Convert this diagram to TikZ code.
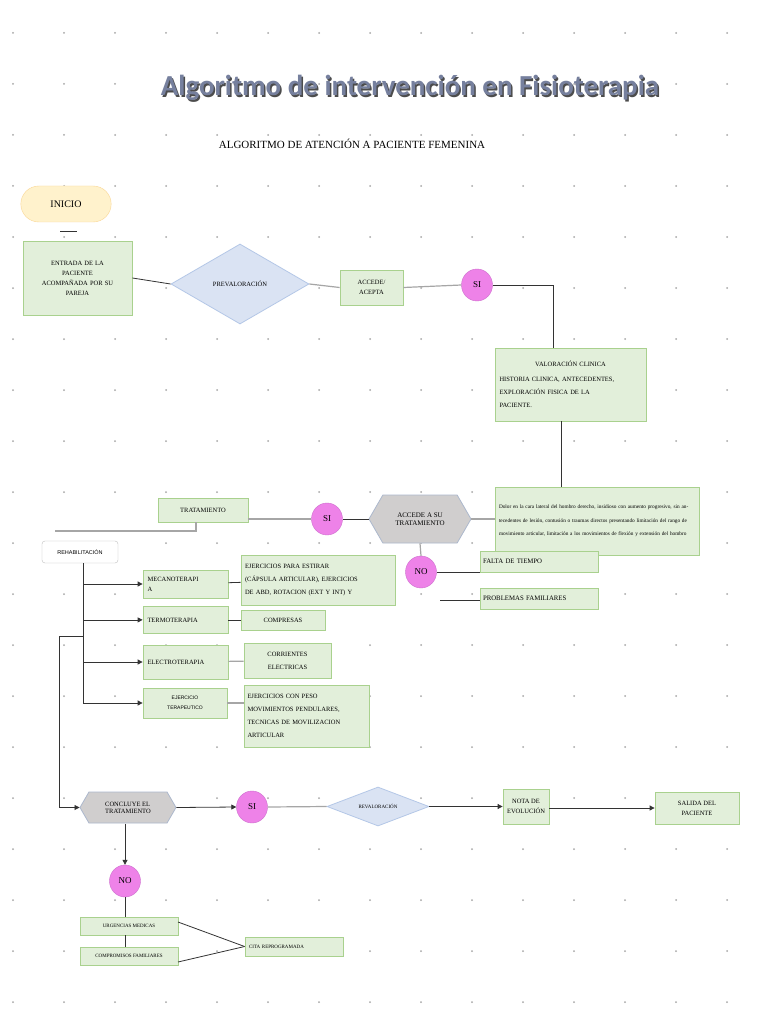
\documentclass[tikz,border=0pt]{standalone}
\usepackage{fontspec}
\setmainfont{Liberation Serif}
\newfontfamily\titlefont{Carlito}
\newfontfamily\sansfont{Liberation Sans}
\usetikzlibrary{arrows.meta, shapes.geometric, shapes.misc, shapes.symbols}
\definecolor{boxfill}{RGB}{226,239,218}
\definecolor{boxline}{RGB}{169,209,142}
\definecolor{diafill}{RGB}{218,227,243}
\definecolor{dialine}{RGB}{180,199,231}
\definecolor{hexfill}{RGB}{208,206,206}
\definecolor{hexline}{RGB}{172,184,205}
\definecolor{sifill}{RGB}{238,130,232}
\definecolor{siline}{RGB}{205,110,205}
\definecolor{inifill}{RGB}{255,242,204}
\definecolor{iniline}{RGB}{250,215,150}
\definecolor{titlec}{RGB}{118,128,158}
\begin{document}
\begin{tikzpicture}[x=1pt, y=-1pt,
  box/.style={rectangle, draw=boxline, fill=boxfill, line width=0.8pt, inner sep=2pt, align=center, font=\fontsize{6.5}{10}\selectfont},
  dia/.style={diamond, draw=dialine, fill=diafill, line width=0.8pt, inner sep=0pt, font=\fontsize{6.5}{8}\selectfont, align=center},
  hex/.style={signal, signal to=east and west, signal pointer angle=120, draw=hexline, fill=hexfill, line width=0.8pt, inner sep=0pt, align=center, font=\fontsize{7}{8}\selectfont},
  circ/.style={ellipse, draw=siline, fill=sifill, inner sep=0pt, minimum width=31pt, minimum height=32pt, font=\fontsize{9}{10}\selectfont},
  ln/.style={draw=black!80, line width=0.8pt},
  gl/.style={draw=black!35, line width=1.2pt},
  arr/.style={ln, -{Triangle[length=5pt,width=5pt]}}
]
\fill[white] (0,0) rectangle (768,1024);
\useasboundingbox (0,0) rectangle (768,1024);
% dot grid
\foreach \i in {0,...,14}
  \foreach \j in {0,...,19}
    \fill[black!35] (13+51*\i,33+51*\j) circle (1pt);

% titles
\node[font=\titlefont\bfseries\fontsize{29}{30}\selectfont, text=black!70] at (411.5,89.5) {Algoritmo de intervención en Fisioterapia};
\node[font=\titlefont\bfseries\fontsize{29}{30}\selectfont, text=titlec] (title) at (410,88) {Algoritmo de intervención en Fisioterapia};
\node[font=\fontsize{11}{12}\selectfont] (sub) at (352,144) {ALGORITMO DE ATENCIÓN A PACIENTE FEMENINA};

% upper part
\node[rounded rectangle, draw=iniline, fill=inifill, minimum width=97pt, minimum height=36pt, font=\fontsize{10}{12}\selectfont] (inicio) at (66,204) {INICIO};
\coordinate (u1) at (60,231); \coordinate (u2) at (77,231);
\draw[ln] (u1) -- (u2);
\node[box, minimum width=109pt, minimum height=74pt, text width=100pt] (entrada) at (77.5,278) {ENTRADA DE LA\\PACIENTE\\ACOMPAÑADA POR SU\\PAREJA};
\node[dia, minimum width=138pt, minimum height=80pt, aspect=1.72] (preval) at (240,284) {PREVALORACIÓN};
\node[box, minimum width=63pt, minimum height=35pt] (accede) at (371.5,287.5) {ACCEDE/\\ACEPTA};
\node[circ] (si1) at (477,285) {SI};
\node[box, minimum width=151pt, minimum height=73pt, text width=142pt, align=left, font=\fontsize{6.5}{13}\selectfont] (valor) at (570.5,384.5) {\centerline{VALORACIÓN CLINICA}\\[2pt]HISTORIA CLINICA, ANTECEDENTES,\\EXPLORACIÓN FISICA DE LA\\PACIENTE.};
\draw[ln] (entrada.east) -- (preval.west);
\draw[gl] (preval.east) -- (accede.west);
\draw[gl] (accede.east) -- (si1.west);
\coordinate (c1) at (553,285);
\draw[ln] (si1.east) -- (c1) -- (c1 |- valor.north);

% dolor / accede a su tratamiento
\node[box, minimum width=204pt, minimum height=68pt, text width=196pt, align=left, font=\fontsize{5.3}{13.5}\selectfont] (dolor) at (597,521) {Dolor en la cara lateral del hombro derecho, insidioso con aumento progresivo, sin antecedentes de lesión, contusión o traumas directos presentando limitación del rango de movimiento articular, limitación a los movimientos de flexión y extensión del hombro};
\coordinate (c2) at (561,421);
\draw[ln] (c2) -- (c2 |- dolor.north);
\node[hex, minimum width=102pt, minimum height=48pt] (hex1) at (420,519) {ACCEDE A SU\\TRATAMIENTO};
\draw[gl] (dolor.west |- hex1) -- (hex1.east);
\node[circ] (si2) at (327,519) {SI};
\draw[ln] (hex1.west) -- (si2.east);
\node[box, minimum width=90pt, minimum height=24pt] (trat) at (203,510) {TRATAMIENTO};
\draw[gl] (si2.west) -- (trat.east |- si2);
\node[rounded corners=3pt, draw=black!25, fill=white, minimum width=76pt, minimum height=22pt, font=\sansfont\fontsize{5.5}{6}\selectfont] (rehab) at (80,552) {REHABILITACIÓN};
\coordinate (c3) at (196,531); \coordinate (c4) at (55,531);
\draw[gl] (trat.south -| c3) -- (c3) -- (c4);
\node[circ] (no1) at (421,572) {NO};
\draw[gl] (hex1.south) -- (no1.north);
\node[box, minimum width=118pt, minimum height=21pt, text width=112pt, align=left, font=\fontsize{6.8}{8}\selectfont] (falta) at (539,561.5) {FALTA DE TIEMPO};
\node[box, minimum width=118pt, minimum height=21pt, text width=112pt, align=left, font=\fontsize{6.8}{8}\selectfont] (probl) at (539,598.5) {PROBLEMAS FAMILIARES};
\coordinate (c5) at (440,600);
\draw[ln] (no1.east) -- (falta.west |- no1.east);
\draw[ln] (c5) -- (probl.west |- c5);

% therapies
\node[box, minimum width=85pt, minimum height=28pt, text width=76pt, align=left] (meca) at (185.5,584) {MECANOTERAPI\\A};
\node[box, minimum width=85pt, minimum height=27pt, text width=76pt, align=left, anchor=north] (termo) at (185.5,606) {TERMOTERAPIA\\[6pt]};
\node[box, minimum width=85pt, minimum height=34pt, text width=76pt, align=left] (elec) at (185.5,662) {ELECTROTERAPIA};
\node[box, minimum width=84pt, minimum height=30pt, font=\sansfont\fontsize{5}{10}\selectfont] (ejer) at (185,703) {EJERCICIO\\TERAPEUTICO};
\node[box, minimum width=154pt, minimum height=50pt, text width=146pt, align=left, font=\fontsize{6.5}{13}\selectfont] (estir) at (318,580) {EJERCICIOS PARA ESTIRAR\\(CÁPSULA ARTICULAR), EJERCICIOS\\DE ABD, ROTACION (EXT Y INT) Y};
\node[box, minimum width=84pt, minimum height=20pt] (compr) at (283,620) {COMPRESAS};
\node[box, minimum width=87pt, minimum height=35pt, font=\fontsize{6.5}{13}\selectfont] (corr) at (287.5,660.5) {CORRIENTES\\ELECTRICAS};
\node[box, minimum width=125pt, minimum height=62pt, text width=118pt, align=left, font=\fontsize{6.5}{13}\selectfont] (peso) at (306.5,716) {EJERCICIOS CON PESO\\MOVIMIENTOS PENDULARES,\\TECNICAS DE MOVILIZACION\\ARTICULAR};
\coordinate (v1) at (83,563); \coordinate (v2) at (83,703);
\draw[ln] (v1) -- (v2);
\foreach \n in {meca,termo,elec,ejer}
  \draw[arr] (\n.west -| v1) -- (\n.west);
\draw[ln] (meca) -- (estir);
\draw[ln] (termo.east |- compr) -- (compr);
\draw[gl] (elec) -- (corr);
\draw[gl] (ejer) -- (ejer -| peso.west);

% bottom part
\coordinate (v3) at (83,636); \coordinate (v4) at (59,636); \coordinate (v5) at (59,808);
\draw[ln] (v3) -- (v4) -- (v5);
\node[hex, minimum width=96pt, minimum height=31pt, font=\fontsize{6.5}{7}\selectfont, align=left] (hex2) at (128,807.5) {CONCLUYE EL\\TRATAMIENTO};
\draw[arr] (v5 |- hex2) -- (hex2.west);
\node[circ] (si3) at (252,807) {SI};
\draw[arr] (hex2.east) -- (si3.west);
\node[dia, minimum width=102pt, minimum height=39pt, aspect=2.6, font=\fontsize{5}{6}\selectfont] (reval) at (378,806.5) {REVALORACIÓN};
\draw[gl] (si3.east) -- (reval.west);
\node[box, minimum width=46pt, minimum height=35pt] (nota) at (526,806.5) {NOTA DE\\EVOLUCIÓN};
\node[box, minimum width=84pt, minimum height=32pt] (salida) at (697,808) {SALIDA DEL\\PACIENTE};
\draw[arr] (reval.east) -- (nota.west |- reval);
\draw[arr] (nota.east |- salida) -- (salida.west);
\node[circ] (no2) at (125,881) {NO};
\draw[arr] (125,823.5) -- (no2.north);
\node[box, minimum width=98pt, minimum height=18pt, font=\fontsize{5}{6}\selectfont] (urg) at (129,926) {URGENCIAS MEDICAS};
\node[box, minimum width=98pt, minimum height=18pt, font=\fontsize{5}{6}\selectfont] (comp) at (129,956) {COMPROMISOS FAMILIARES};
\node[box, minimum width=98pt, minimum height=19pt, text width=90pt, align=left, font=\fontsize{5}{6}\selectfont] (cita) at (294,946.5) {CITA REPROGRAMADA};
\draw[ln] (no2.south) -- (no2.south |- urg.north);
\draw[ln] (urg.south -| no2) -- (comp.north -| no2);
\coordinate (m1) at (178,922); \coordinate (m2) at (178,962);
\draw[ln] (m1) -- (cita.west);
\draw[ln] (m2) -- (cita.west);
\end{tikzpicture}
\end{document}
